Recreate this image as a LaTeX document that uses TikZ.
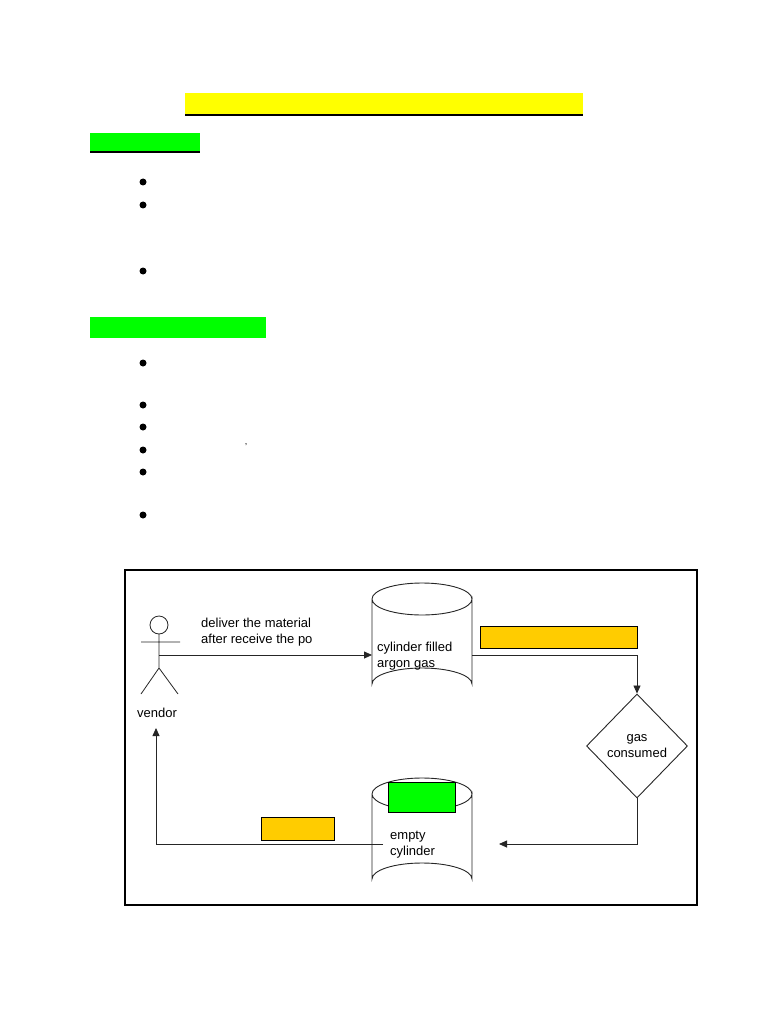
\documentclass[tikz,border=0pt]{standalone}
\usepackage{fontspec}
\setmainfont{Liberation Sans}
\usetikzlibrary{shapes.geometric,arrows.meta}
\definecolor{hlyellow}{HTML}{FFFF00}
\definecolor{hlgreen}{HTML}{00FF00}
\definecolor{hlorange}{HTML}{FFCC00}
\begin{document}
\begin{tikzpicture}[x=1pt,y=-1pt,
  bul/.style={circle,fill=black,inner sep=0pt,minimum size=7pt},
  lbl/.style={font=\fontsize{13}{16}\selectfont,align=left,inner sep=0pt},
  conn/.style={draw=black!85,line width=0.8pt},
  arr/.style={conn,-{Triangle[length=8pt,width=7pt]}},
  cyl/.style={draw=black!85,line width=0.9pt,fill=white}]
\useasboundingbox (0,0) rectangle (768,1024);
\fill[white] (0,0) rectangle (768,1024);
% header highlights
\fill[hlyellow] (185,93) rectangle (583,115);
\draw[line width=1.6pt] (185,115) -- (583,115);
\fill[hlgreen] (90,133) rectangle (200,153);
\draw[line width=1.2pt] (90,152) -- (200,152);
\fill[hlgreen] (90,317) rectangle (266,338);
% bullets
\foreach \y/\n in {182/a,205/b,271/c,363/d,405/e,427/f,450/g,472/h,515/i}
  \node[bul] (b\n) at (143,\y) {};
\node[inner sep=0pt,font=\small] (comma) at (246,445) {,};
% frame
\draw[line width=2.4pt] (125,570) rectangle (697,905);
% actor
\draw[conn] (159,625) circle (9);
\draw[conn] (159,634) -- (159,668) (141,642) -- (180,642)
  (141,694) -- (159,668) -- (178,694);
\coordinate (act) at (159,655);
\node[lbl] (vendor) at (157,713) {vendor};
% cylinder 1
\coordinate (c1l) at (372,655);
\coordinate (c1r) at (472,655);
\draw[cyl] (372,599) -- (372,684) arc[start angle=180,end angle=360,x radius=50,y radius=16] -- (472,599) arc[start angle=0,end angle=180,x radius=50,y radius=16];
\draw[cyl] (372,599) arc[start angle=180,end angle=360,x radius=50,y radius=16];
\node[lbl,anchor=west] (cyl1) at (377,656) {cylinder filled\\argon gas};
\node[draw,fill=hlorange,minimum width=157pt,minimum height=22pt,inner sep=0pt] (o1) at (558.5,637) {};
% cylinder 2
\coordinate (c2l) at (383,844);
\draw[cyl] (372,794) -- (372,879) arc[start angle=180,end angle=360,x radius=50,y radius=16] -- (472,794) arc[start angle=0,end angle=180,x radius=50,y radius=16];
\draw[cyl] (372,794) arc[start angle=180,end angle=360,x radius=50,y radius=16];
\node[draw,line width=1pt,fill=hlgreen,minimum width=67pt,minimum height=30pt,inner sep=0pt] (g1) at (421.5,797) {};
\node[lbl,anchor=west] (cyl2) at (390,845) {empty\\cylinder};
\node[draw,fill=hlorange,minimum width=73pt,minimum height=23pt,inner sep=0pt] (o2) at (297.5,828.5) {};
% diamond
\node[diamond,draw=black!85,line width=0.9pt,minimum width=101pt,minimum height=104pt,inner sep=0pt,aspect=1] (dia) at (637,746) {};
\node[lbl,align=center] (diat) at (637,746) {gas\\consumed};
% connectors
\node[lbl,anchor=west] (lab) at (201,632) {deliver the material\\after receive the po};
\draw[arr] (act) -- (c1l);
\draw[arr] (c1r) -| (dia.north);
\coordinate (d2) at (499,844);
\draw[arr] (dia.south) |- (d2);
\coordinate (v2) at (156,728);
\draw[arr] (c2l) -| (v2);
\end{tikzpicture}
\end{document}
